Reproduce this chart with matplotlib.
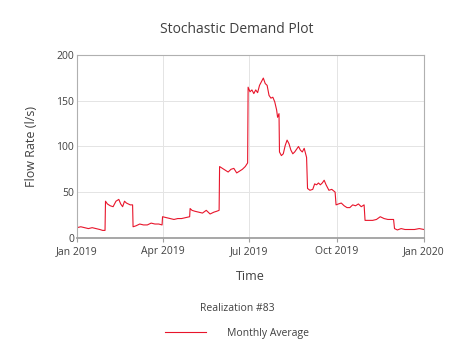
import numpy as np
import matplotlib
matplotlib.use("Agg")
import matplotlib.pyplot as plt
import matplotlib.dates as mdates
from datetime import datetime, timedelta

# days since 1 Jan 2019, flow rate in l/s
days = [0, 4, 8, 12, 16, 20, 24, 27, 29.5,
        30, 32, 35, 38, 41, 44, 46, 48, 50, 52, 54, 56, 58.5,
        59, 62, 66, 70, 74, 78, 82, 86, 89.5,
        90, 94, 98, 102, 106, 110, 114, 118.5,
        119, 121, 124, 128, 132, 136, 140, 144, 147, 149.5,
        150, 153, 156, 159, 162, 165, 168, 171, 174, 177, 179.5,
        180, 182, 184, 186, 188, 190, 192, 194, 196, 198, 200, 202, 204, 206, 208, 210, 211, 212.5,
        213, 215, 217, 219, 221, 223, 225, 227, 229, 231, 233, 235, 237, 239, 241.5,
        242.5, 245, 248, 250, 252, 254, 256, 258, 260, 262, 265, 268, 271.5,
        272.5, 275, 278, 281, 284, 287, 290, 293, 296, 299, 302,
        303, 307, 311, 315, 319, 323, 327, 330, 333,
        334, 337, 341, 345, 350, 355, 360, 365]
flow = [11, 12, 11, 10, 11, 10, 9, 8, 8,
        40, 37, 35, 34, 40, 42, 37, 34, 40, 38, 37, 36, 36,
        12, 13, 15, 14, 14, 16, 15, 15, 14,
        23, 22, 21, 20, 21, 21, 22, 23,
        32, 30, 29, 28, 27, 30, 26, 28, 29, 30,
        78, 76, 74, 72, 75, 76, 71, 73, 75, 78, 82,
        165, 160, 162, 158, 162, 159, 167, 171, 175, 169, 167, 156, 153, 154, 149, 140, 132, 136,
        94, 90, 92, 101, 107, 103, 96, 92, 94, 97, 100, 96, 94, 98, 88,
        54, 52, 53, 59, 58, 60, 58, 60, 63, 58, 52, 53, 50,
        36, 37, 38, 35, 33, 33, 36, 35, 37, 34, 36,
        19, 19, 19, 20, 23, 21, 20, 20, 20,
        10, 8.5, 10, 9, 9, 9, 10, 9]

start = datetime(2019, 1, 1)
dates = [start + timedelta(days=d) for d in days]

plt.rcParams["font.family"] = ["Open Sans", "DejaVu Sans"]
text_col = "#404040"

fig = plt.figure(figsize=(4.74, 3.52), dpi=100)
ax = fig.add_axes([0.1624, 0.3247, 0.7321, 0.5183])

line, = ax.plot(dates, flow, color="#e8152b", linewidth=0.8, label="Monthly Average")

ax.set_xlim(datetime(2019, 1, 1), datetime(2020, 1, 1))
ax.set_ylim(0, 200)
ax.set_yticks([0, 50, 100, 150, 200])
ax.set_xticks([datetime(2019, 1, 1), datetime(2019, 4, 1), datetime(2019, 7, 1),
               datetime(2019, 10, 1), datetime(2020, 1, 1)])
ax.xaxis.set_major_formatter(mdates.DateFormatter("%b %Y"))

ax.grid(True, color="#e4e4e4", linewidth=0.7)
ax.set_axisbelow(True)
for s in ["top", "right", "left"]:
    ax.spines[s].set_color("#b0b0b0")
    ax.spines[s].set_linewidth(0.8)
ax.spines["bottom"].set_color("#a0a0a0")
ax.spines["bottom"].set_linewidth(1.3)
ax.tick_params(axis="y", length=0, pad=2, labelsize=7.5, labelcolor=text_col)
ax.tick_params(axis="x", length=3, color="#a0a0a0", pad=3, labelsize=7.5, labelcolor=text_col)

ax.set_ylabel("Flow Rate (l/s)", fontsize=9, color=text_col, labelpad=13)
ax.set_xlabel("Time", fontsize=9, color=text_col, labelpad=9)
fig.text(0.5, 0.915, "Stochastic Demand Plot", ha="center", va="center",
         fontsize=10, color=text_col)

leg = fig.legend(handles=[line], loc="center", bbox_to_anchor=(0.5, 0.088),
                 frameon=False, title="Realization #83", fontsize=7.5,
                 title_fontsize=7.5, handlelength=4.0, handletextpad=2.0,
                 labelspacing=1.3)
for t in leg.get_texts():
    t.set_color(text_col)
leg.get_title().set_color(text_col)

fig.savefig("out.png", dpi=100)
